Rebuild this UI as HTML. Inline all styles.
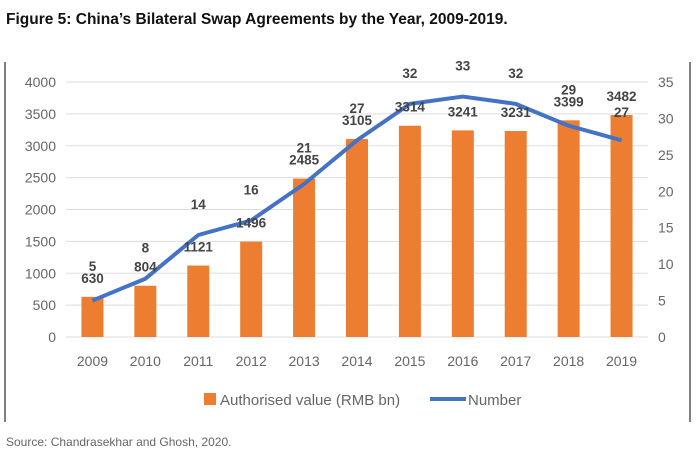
<!DOCTYPE html>
<html><head><meta charset="utf-8"><style>
body{margin:0;background:#fff;width:696px;height:461px;overflow:hidden;font-family:"Liberation Sans",sans-serif}
</style></head><body>
<svg width="696" height="461" xmlns="http://www.w3.org/2000/svg">
<text x="6" y="24" font-size="15.5" font-weight="bold" fill="#111">Figure 5: China’s Bilateral Swap Agreements by the Year, 2009-2019.</text>
<line x1="5" y1="62" x2="5" y2="422" stroke="#555" stroke-width="1.5"/>
<line x1="690" y1="62" x2="690" y2="422" stroke="#555" stroke-width="1.5"/>
<g id="grid"></g><g id="bars"></g><g id="line"></g><g id="labels"></g><g id="axes"></g>
<g>
<rect x="204" y="393" width="12" height="12" fill="#ED7D31"/>
<text x="220" y="405" font-size="15" fill="#666">Authorised value (RMB bn)</text>
<line x1="430" y1="399" x2="466" y2="399" stroke="#4472C4" stroke-width="4"/>
<text x="468" y="405" font-size="15" fill="#666">Number</text>
</g>
<text x="6" y="446" font-size="12" fill="#666">Source: Chandrasekhar and Ghosh, 2020.</text>
</svg>
<script>
const years=["2009","2010","2011","2012","2013","2014","2015","2016","2017","2018","2019"];
const values=[630,804,1121,1496,2485,3105,3314,3241,3231,3399,3482];
const numbers=[5,8,14,16,21,27,32,33,32,29,27];
const leftTicks=[0,500,1000,1500,2000,2500,3000,3500,4000];
const rightTicks=[0,5,10,15,20,25,30,35];
const NS="http://www.w3.org/2000/svg";
const X0=66,X1=648,Y0=337,Y1=82;
const band=(X1-X0)/years.length;
const xc=i=>X0+band*(i+0.5);
const yL=v=>Y0-(v/4000)*(Y0-Y1);
const yR=v=>Y0-(v/35)*(Y0-Y1);
function mk(tag,attrs,parent){const e=document.createElementNS(NS,tag);for(const k in attrs)e.setAttribute(k,attrs[k]);document.getElementById(parent).appendChild(e);return e;}
leftTicks.forEach(t=>{
 const g=mk("line",{x1:X0,x2:X1,y1:yL(t),y2:yL(t),stroke:"#ddd","stroke-width":1},"grid");
 
 
 const l=mk("text",{x:56,y:yL(t)+5,"text-anchor":"end","font-size":14,fill:"#666"},"axes");
 l.textContent=t;
 
 
});
rightTicks.forEach(t=>{
 const l=mk("text",{x:658,y:yR(t)+5,"font-size":14,fill:"#666"},"axes");
 l.textContent=t;
 
 
});
years.forEach((y,i)=>{
 const b=mk("rect",{x:xc(i)-11,y:yL(values[i]),width:22,height:Y0-yL(values[i]),fill:"#ED7D31"},"bars");
 
 
 const l=mk("text",{x:xc(i),y:366,"text-anchor":"middle","font-size":14,fill:"#666"},"axes");
 l.textContent=y;
 
 
 const v=mk("text",{x:xc(i),y:yL(values[i])-14,"text-anchor":"middle","font-size":13.5,"font-weight":"bold",fill:"#444"},"labels");
 v.textContent=values[i];
 
 
 const top=Math.min(yR(numbers[i]),yL(values[i]));
 const ny=(yL(values[i])<yR(numbers[i])-20)?yL(values[i])+2:top-26;
 const n=mk("text",{x:xc(i),y:ny,"text-anchor":"middle","font-size":13.5,"font-weight":"bold",fill:"#444"},"labels");
 n.textContent=numbers[i];
 
 
});
const pts=numbers.map((n,i)=>xc(i)+","+yR(n)).join(" ");
const pl=mk("polyline",{points:pts,fill:"none",stroke:"#4472C4","stroke-width":4,"stroke-linejoin":"round"},"line");


</script>
</body></html>
